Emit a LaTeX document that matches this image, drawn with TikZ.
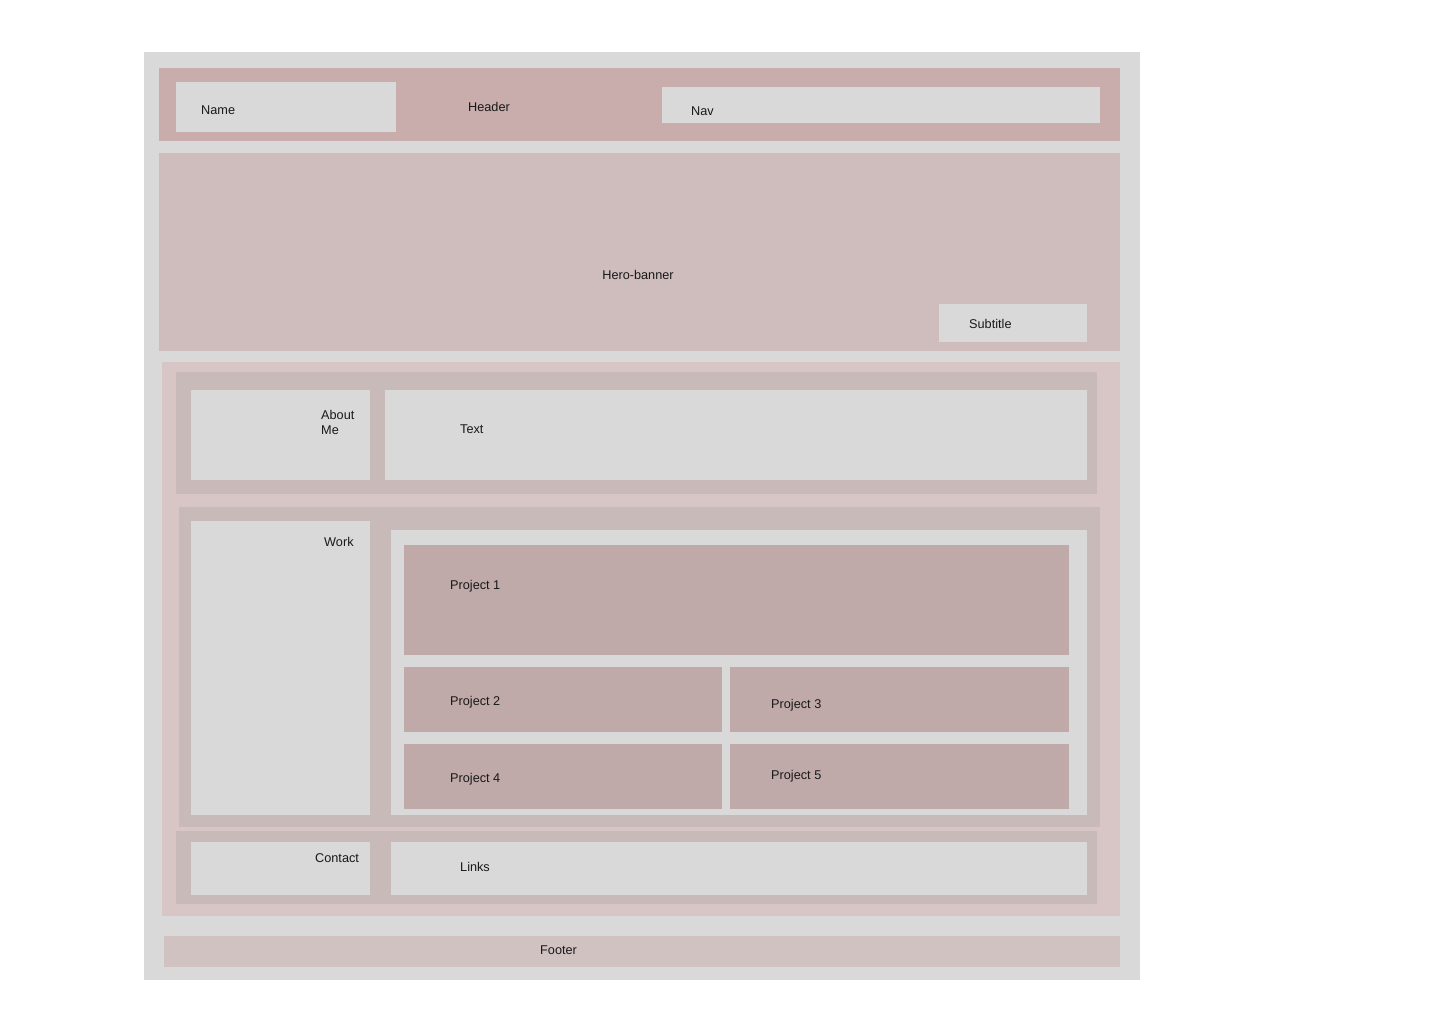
\documentclass[tikz,border=0pt]{standalone}
\usepackage{fontspec}
\setmainfont{Liberation Sans}
\definecolor{cgray}{HTML}{D9D9D9}
\definecolor{chead}{HTML}{C9ACAC}
\definecolor{chero}{HTML}{CFBCBC}
\definecolor{cmain}{HTML}{D8C5C5}
\definecolor{csec}{HTML}{C9BABA}
\definecolor{cproj}{HTML}{BFAAA9}
\definecolor{cfoot}{HTML}{D1C2C2}
\begin{document}
\begin{tikzpicture}[x=1pt,y=-1pt,
  blk/.style={rectangle, draw=none, inner sep=0pt, outer sep=0pt, anchor=north west},
  lbl/.style={inner sep=0pt, anchor=west, font=\fontsize{12.7}{15}\selectfont, text=black!90},
  lblc/.style={inner sep=0pt, anchor=center, font=\fontsize{12.7}{15}\selectfont, text=black!90}]
\useasboundingbox (0,0) rectangle (1440,1024);
\newcommand{\blk}[6]{\node[blk, fill=#2, minimum width=#5-#3, minimum height=#6-#4] (#1) at (#3,#4) {};}
\blk{outer}{cgray}{144}{52}{1140}{980}
\blk{header}{chead}{159}{68}{1120}{141}
\blk{name}{cgray}{176}{82}{396}{132}
\blk{nav}{cgray}{662}{87}{1100}{123}
\blk{hero}{chero}{159}{153}{1120}{351}
\blk{subtitle}{cgray}{939}{304}{1087}{342}
\blk{main}{cmain}{162}{362}{1120}{916}
\blk{aboutsec}{csec}{176}{372}{1097}{494}
\blk{about}{cgray}{191}{390}{370}{480}
\blk{text}{cgray}{385}{390}{1087}{480}
\blk{worksec}{csec}{179}{507}{1100}{827}
\blk{work}{cgray}{191}{521}{370}{815}
\blk{projects}{cgray}{391}{530}{1087}{815}
\blk{p1}{cproj}{404}{545}{1069}{655}
\blk{p2}{cproj}{404}{667}{722}{732}
\blk{p3}{cproj}{730}{667}{1069}{732}
\blk{p4}{cproj}{404}{744}{722}{809}
\blk{p5}{cproj}{730}{744}{1069}{809}
\blk{contactsec}{csec}{176}{831}{1097}{904}
\blk{contact}{cgray}{191}{842}{370}{895}
\blk{links}{cgray}{391}{842}{1087}{895}
\blk{footer}{cfoot}{164}{936}{1120}{967}
\node[lbl] (tname) at (201,110) {Name};
\node[lbl] (thead) at (468,107) {Header};
\node[lbl] (tnav) at (691,111) {Nav};
\node[lblc] (thero) at (638,275) {Hero-banner};
\node[lbl] (tsub) at (969,324) {Subtitle};
\node[lbl, align=left, anchor=north west, font=\fontsize{12.7}{15}\selectfont] (tabout) at (321,410) {About\\Me};
\node[lbl] (ttext) at (460,429) {Text};
\node[lbl] (twork) at (324,542) {Work};
\node[lbl] (tp1) at (450,586) {Project 1};
\node[lbl] (tp2) at (450,702) {Project 2};
\node[lbl] (tp3) at (771,705) {Project 3};
\node[lbl] (tp4) at (450,779) {Project 4};
\node[lbl] (tp5) at (771,776) {Project 5};
\node[lbl] (tcontact) at (315,858) {Contact};
\node[lbl] (tlinks) at (460,867) {Links};
\node[lbl] (tfoot) at (540,950) {Footer};
\end{tikzpicture}
\end{document}
